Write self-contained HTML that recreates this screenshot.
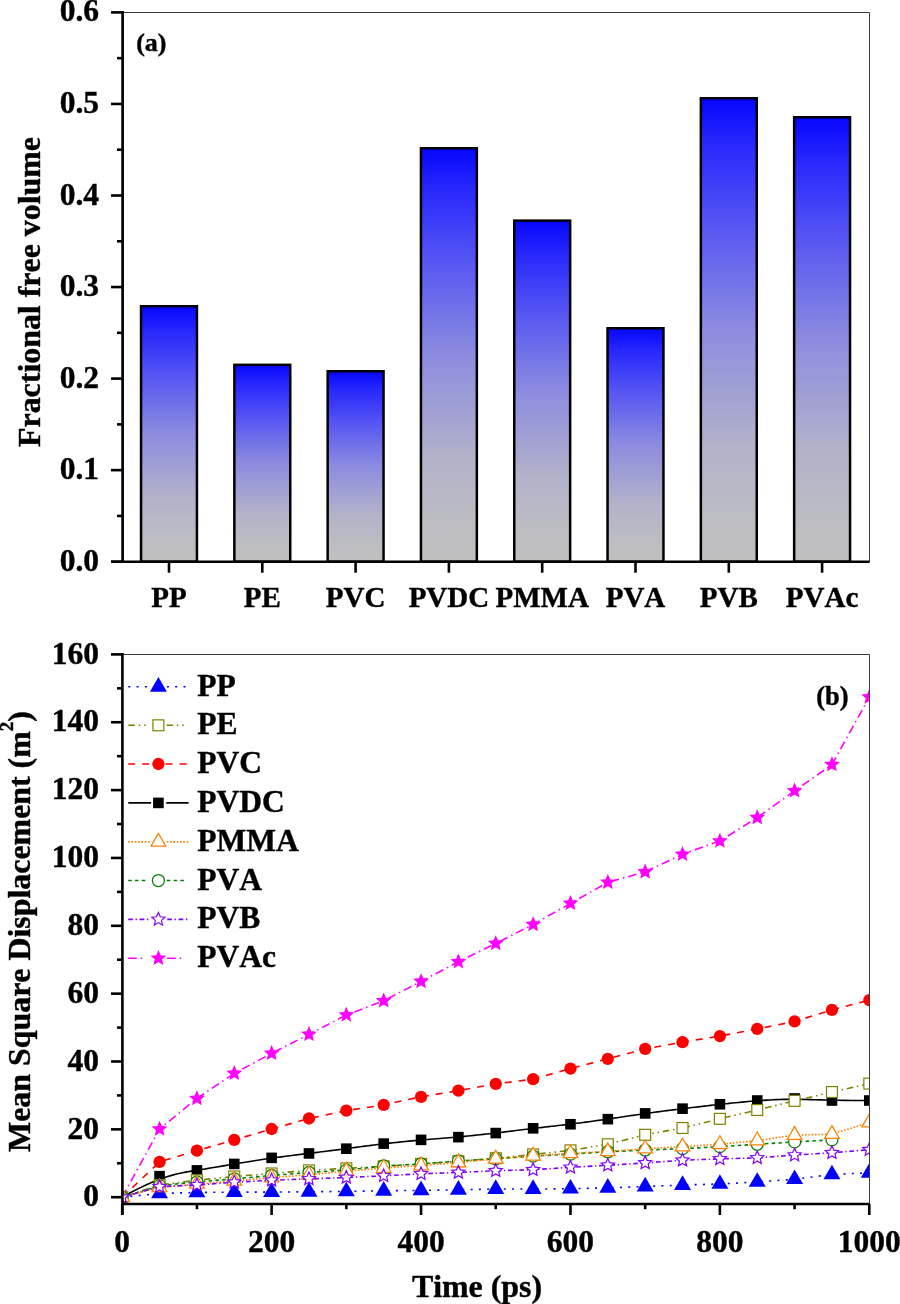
<!DOCTYPE html>
<html><head><meta charset="utf-8"><title>Chart</title><style>html,body{margin:0;padding:0;background:#fff;overflow:hidden}svg{display:block;will-change:transform}text{font-family:"Liberation Serif",serif;font-weight:bold;font-kerning:none;stroke:#000;stroke-width:0.4px}</style></head><body>
<svg width="900" height="1304" viewBox="0 0 900 1304">
<rect width="900" height="1304" fill="#fff"/>
<defs><linearGradient id="g" x1="0" y1="0" x2="0" y2="1"><stop offset="0" stop-color="rgb(6,6,255)"/><stop offset="0.1" stop-color="rgb(40,40,253)"/><stop offset="0.25" stop-color="rgb(80,80,245)"/><stop offset="0.5" stop-color="rgb(140,140,224)"/><stop offset="0.75" stop-color="rgb(178,178,202)"/><stop offset="0.9" stop-color="rgb(188,188,195)"/><stop offset="1" stop-color="rgb(192,192,192)"/></linearGradient><clipPath id="pc"><rect x="122.4" y="654.4" width="746.9" height="549.6"/></clipPath></defs>
<rect x="141.05" y="306.25" width="55.90" height="255.45" fill="url(#g)" stroke="#000" stroke-width="2.5"/>
<rect x="234.35" y="364.85" width="55.90" height="196.85" fill="url(#g)" stroke="#000" stroke-width="2.5"/>
<rect x="327.65" y="371.25" width="55.90" height="190.45" fill="url(#g)" stroke="#000" stroke-width="2.5"/>
<rect x="420.95" y="148.25" width="55.90" height="413.45" fill="url(#g)" stroke="#000" stroke-width="2.5"/>
<rect x="514.25" y="220.65" width="55.90" height="341.05" fill="url(#g)" stroke="#000" stroke-width="2.5"/>
<rect x="607.55" y="328.25" width="55.90" height="233.45" fill="url(#g)" stroke="#000" stroke-width="2.5"/>
<rect x="700.85" y="98.25" width="55.90" height="463.45" fill="url(#g)" stroke="#000" stroke-width="2.5"/>
<rect x="794.15" y="117.25" width="55.90" height="444.45" fill="url(#g)" stroke="#000" stroke-width="2.5"/>
<path d="M122.6 12.5H869.5V561.7" fill="none" stroke="#3c3c3c" stroke-width="1"/>
<line x1="111" y1="561.70" x2="122.6" y2="561.70" stroke="#000" stroke-width="2.6"/>
<text x="99" y="570.70" font-size="31.5" text-anchor="end">0.0</text>
<line x1="111" y1="470.15" x2="122.6" y2="470.15" stroke="#000" stroke-width="2.6"/>
<text x="99" y="479.15" font-size="31.5" text-anchor="end">0.1</text>
<line x1="111" y1="378.60" x2="122.6" y2="378.60" stroke="#000" stroke-width="2.6"/>
<text x="99" y="387.60" font-size="31.5" text-anchor="end">0.2</text>
<line x1="111" y1="287.05" x2="122.6" y2="287.05" stroke="#000" stroke-width="2.6"/>
<text x="99" y="296.05" font-size="31.5" text-anchor="end">0.3</text>
<line x1="111" y1="195.50" x2="122.6" y2="195.50" stroke="#000" stroke-width="2.6"/>
<text x="99" y="204.50" font-size="31.5" text-anchor="end">0.4</text>
<line x1="111" y1="103.95" x2="122.6" y2="103.95" stroke="#000" stroke-width="2.6"/>
<text x="99" y="112.95" font-size="31.5" text-anchor="end">0.5</text>
<line x1="111" y1="12.40" x2="122.6" y2="12.40" stroke="#000" stroke-width="2.6"/>
<text x="99" y="21.40" font-size="31.5" text-anchor="end">0.6</text>
<line x1="117" y1="515.93" x2="122.6" y2="515.93" stroke="#000" stroke-width="2.6"/>
<line x1="117" y1="424.38" x2="122.6" y2="424.38" stroke="#000" stroke-width="2.6"/>
<line x1="117" y1="332.83" x2="122.6" y2="332.83" stroke="#000" stroke-width="2.6"/>
<line x1="117" y1="241.27" x2="122.6" y2="241.27" stroke="#000" stroke-width="2.6"/>
<line x1="117" y1="149.72" x2="122.6" y2="149.72" stroke="#000" stroke-width="2.6"/>
<line x1="117" y1="58.17" x2="122.6" y2="58.17" stroke="#000" stroke-width="2.6"/>
<line x1="122.6" y1="11.1" x2="122.6" y2="563.0" stroke="#000" stroke-width="2.7"/>
<line x1="111" y1="561.7" x2="869.6" y2="561.7" stroke="#000" stroke-width="2.5"/>
<line x1="169.0" y1="561.7" x2="169.0" y2="572.7" stroke="#000" stroke-width="2.6"/>
<text x="169.0" y="607.2" font-size="29" text-anchor="middle">PP</text>
<line x1="262.3" y1="561.7" x2="262.3" y2="572.7" stroke="#000" stroke-width="2.6"/>
<text x="262.3" y="607.2" font-size="29" text-anchor="middle">PE</text>
<line x1="355.6" y1="561.7" x2="355.6" y2="572.7" stroke="#000" stroke-width="2.6"/>
<text x="355.6" y="607.2" font-size="29" text-anchor="middle">PVC</text>
<line x1="448.9" y1="561.7" x2="448.9" y2="572.7" stroke="#000" stroke-width="2.6"/>
<text x="448.9" y="607.2" font-size="29" text-anchor="middle">PVDC</text>
<line x1="542.2" y1="561.7" x2="542.2" y2="572.7" stroke="#000" stroke-width="2.6"/>
<text x="542.2" y="607.2" font-size="29" text-anchor="middle">PMMA</text>
<line x1="635.5" y1="561.7" x2="635.5" y2="572.7" stroke="#000" stroke-width="2.6"/>
<text x="635.5" y="607.2" font-size="29" text-anchor="middle">PVA</text>
<line x1="728.8" y1="561.7" x2="728.8" y2="572.7" stroke="#000" stroke-width="2.6"/>
<text x="728.8" y="607.2" font-size="29" text-anchor="middle">PVB</text>
<line x1="822.1" y1="561.7" x2="822.1" y2="572.7" stroke="#000" stroke-width="2.6"/>
<text x="822.1" y="607.2" font-size="29" text-anchor="middle">PVAc</text>
<text x="136.2" y="50.8" font-size="26">(a)</text>
<text transform="translate(40.2 292) rotate(-90)" font-size="31.9" text-anchor="middle">Fractional free volume</text>
<g clip-path="url(#pc)">
<path d="M122.20 1197.20 L159.56 1129.01 L196.91 1098.48 L234.26 1073.37 L271.62 1053.36 L308.98 1034.36 L346.33 1015.02 L383.69 1000.77 L421.04 981.44 L458.39 961.76 L495.75 943.44 L533.11 924.44 L570.46 903.41 L607.82 882.38 L645.17 871.86 L682.53 854.22 L719.88 840.99 L757.24 817.58 L794.59 790.78 L831.95 764.66 L869.30 697.15" fill="none" stroke="#ff00ff" stroke-width="1.6" stroke-dasharray="8.5 4 1.5 4"/>
<polygon points="159.56,1120.71 161.79,1125.94 167.45,1126.45 163.17,1130.19 164.43,1135.73 159.56,1132.81 154.68,1135.73 155.94,1130.19 151.66,1126.45 157.32,1125.94" fill="#ff00ff"/>
<polygon points="196.91,1090.18 199.14,1095.40 204.80,1095.91 200.52,1099.65 201.79,1105.19 196.91,1102.28 192.03,1105.19 193.30,1099.65 189.02,1095.91 194.68,1095.40" fill="#ff00ff"/>
<polygon points="234.26,1065.07 236.50,1070.30 242.16,1070.81 237.88,1074.55 239.14,1080.09 234.26,1077.17 229.39,1080.09 230.65,1074.55 226.37,1070.81 232.03,1070.30" fill="#ff00ff"/>
<polygon points="271.62,1045.06 273.85,1050.28 279.51,1050.79 275.23,1054.53 276.50,1060.07 271.62,1057.16 266.74,1060.07 268.01,1054.53 263.73,1050.79 269.39,1050.28" fill="#ff00ff"/>
<polygon points="308.98,1026.06 311.21,1031.29 316.87,1031.80 312.59,1035.53 313.85,1041.07 308.98,1038.16 304.10,1041.07 305.36,1035.53 301.08,1031.80 306.74,1031.29" fill="#ff00ff"/>
<polygon points="346.33,1006.72 348.56,1011.95 354.22,1012.46 349.94,1016.20 351.21,1021.74 346.33,1018.82 341.45,1021.74 342.72,1016.20 338.44,1012.46 344.10,1011.95" fill="#ff00ff"/>
<polygon points="383.69,992.47 385.92,997.70 391.58,998.21 387.30,1001.95 388.56,1007.49 383.69,1004.57 378.81,1007.49 380.07,1001.95 375.79,998.21 381.45,997.70" fill="#ff00ff"/>
<polygon points="421.04,973.14 423.27,978.36 428.93,978.87 424.65,982.61 425.92,988.15 421.04,985.24 416.16,988.15 417.43,982.61 413.15,978.87 418.81,978.36" fill="#ff00ff"/>
<polygon points="458.39,953.46 460.63,958.69 466.29,959.20 462.01,962.93 463.27,968.48 458.39,965.56 453.52,968.48 454.78,962.93 450.50,959.20 456.16,958.69" fill="#ff00ff"/>
<polygon points="495.75,935.14 497.98,940.37 503.64,940.88 499.36,944.62 500.63,950.16 495.75,947.24 490.87,950.16 492.14,944.62 487.86,940.88 493.52,940.37" fill="#ff00ff"/>
<polygon points="533.11,916.14 535.34,921.37 541.00,921.88 536.72,925.62 537.98,931.16 533.11,928.24 528.23,931.16 529.49,925.62 525.21,921.88 530.87,921.37" fill="#ff00ff"/>
<polygon points="570.46,895.11 572.69,900.34 578.35,900.84 574.07,904.58 575.34,910.12 570.46,907.21 565.58,910.12 566.85,904.58 562.57,900.84 568.23,900.34" fill="#ff00ff"/>
<polygon points="607.82,874.08 610.05,879.30 615.71,879.81 611.43,883.55 612.69,889.09 607.82,886.18 602.94,889.09 604.20,883.55 599.92,879.81 605.58,879.30" fill="#ff00ff"/>
<polygon points="645.17,863.56 647.40,868.78 653.06,869.29 648.78,873.03 650.05,878.57 645.17,875.66 640.29,878.57 641.56,873.03 637.28,869.29 642.94,868.78" fill="#ff00ff"/>
<polygon points="682.53,845.92 684.76,851.14 690.42,851.65 686.14,855.39 687.40,860.93 682.53,858.02 677.65,860.93 678.91,855.39 674.63,851.65 680.29,851.14" fill="#ff00ff"/>
<polygon points="719.88,832.69 722.11,837.91 727.77,838.42 723.49,842.16 724.76,847.70 719.88,844.79 715.00,847.70 716.27,842.16 711.99,838.42 717.65,837.91" fill="#ff00ff"/>
<polygon points="757.24,809.28 759.47,814.50 765.13,815.01 760.85,818.75 762.11,824.29 757.24,821.38 752.36,824.29 753.62,818.75 749.34,815.01 755.00,814.50" fill="#ff00ff"/>
<polygon points="794.59,782.48 796.82,787.70 802.48,788.21 798.20,791.95 799.47,797.49 794.59,794.58 789.71,797.49 790.98,791.95 786.70,788.21 792.36,787.70" fill="#ff00ff"/>
<polygon points="831.95,756.36 834.18,761.58 839.84,762.09 835.56,765.83 836.82,771.37 831.95,768.46 827.07,771.37 828.33,765.83 824.05,762.09 829.71,761.58" fill="#ff00ff"/>
<polygon points="869.30,688.85 871.53,694.07 877.19,694.58 872.91,698.32 874.18,703.86 869.30,700.95 864.42,703.86 865.69,698.32 861.41,694.58 867.07,694.07" fill="#ff00ff"/>
<path d="M122.20 1197.20 L159.56 1161.92 L196.91 1150.72 L234.26 1139.87 L271.62 1129.01 L308.98 1118.49 L346.33 1110.69 L383.69 1104.92 L421.04 1096.78 L458.39 1090.68 L495.75 1083.89 L533.11 1079.14 L570.46 1068.62 L607.82 1058.79 L645.17 1048.95 L682.53 1042.16 L719.88 1036.06 L757.24 1028.93 L794.59 1021.47 L831.95 1009.93 L869.30 1000.10" fill="none" stroke="#ff0000" stroke-width="1.6" stroke-dasharray="7 7"/>
<circle cx="159.56" cy="1161.92" r="6.15" fill="#ff0000"/>
<circle cx="196.91" cy="1150.72" r="6.15" fill="#ff0000"/>
<circle cx="234.26" cy="1139.87" r="6.15" fill="#ff0000"/>
<circle cx="271.62" cy="1129.01" r="6.15" fill="#ff0000"/>
<circle cx="308.98" cy="1118.49" r="6.15" fill="#ff0000"/>
<circle cx="346.33" cy="1110.69" r="6.15" fill="#ff0000"/>
<circle cx="383.69" cy="1104.92" r="6.15" fill="#ff0000"/>
<circle cx="421.04" cy="1096.78" r="6.15" fill="#ff0000"/>
<circle cx="458.39" cy="1090.68" r="6.15" fill="#ff0000"/>
<circle cx="495.75" cy="1083.89" r="6.15" fill="#ff0000"/>
<circle cx="533.11" cy="1079.14" r="6.15" fill="#ff0000"/>
<circle cx="570.46" cy="1068.62" r="6.15" fill="#ff0000"/>
<circle cx="607.82" cy="1058.79" r="6.15" fill="#ff0000"/>
<circle cx="645.17" cy="1048.95" r="6.15" fill="#ff0000"/>
<circle cx="682.53" cy="1042.16" r="6.15" fill="#ff0000"/>
<circle cx="719.88" cy="1036.06" r="6.15" fill="#ff0000"/>
<circle cx="757.24" cy="1028.93" r="6.15" fill="#ff0000"/>
<circle cx="794.59" cy="1021.47" r="6.15" fill="#ff0000"/>
<circle cx="831.95" cy="1009.93" r="6.15" fill="#ff0000"/>
<circle cx="869.30" cy="1000.10" r="6.15" fill="#ff0000"/>
<path d="M122.20 1197.20 L131.16 1192.31 L139.39 1188.11 L146.96 1184.55 L153.91 1181.56 L160.29 1179.07 L166.17 1177.04 L171.59 1175.39 L176.62 1174.06 L181.30 1173.00 L185.68 1172.14 L189.83 1171.41 L193.80 1170.77 L197.63 1170.15 L201.33 1169.54 L204.94 1168.94 L208.44 1168.36 L211.86 1167.79 L215.20 1167.23 L218.48 1166.68 L221.70 1166.13 L224.88 1165.59 L228.02 1165.06 L231.15 1164.53 L234.26 1164.01 L237.38 1163.49 L240.49 1162.97 L243.60 1162.46 L246.72 1161.95 L249.83 1161.44 L252.94 1160.94 L256.06 1160.45 L259.17 1159.97 L262.28 1159.49 L265.39 1159.03 L268.51 1158.57 L271.62 1158.13 L274.73 1157.70 L277.85 1157.28 L280.96 1156.86 L284.07 1156.46 L287.18 1156.06 L290.30 1155.67 L293.41 1155.28 L296.52 1154.90 L299.64 1154.52 L302.75 1154.14 L305.86 1153.76 L308.98 1153.38 L312.09 1153.00 L315.20 1152.61 L318.31 1152.22 L321.43 1151.83 L324.54 1151.44 L327.65 1151.05 L330.77 1150.65 L333.88 1150.25 L336.99 1149.85 L340.10 1149.45 L343.22 1149.04 L346.33 1148.63 L349.44 1148.22 L352.56 1147.81 L355.67 1147.39 L358.78 1146.98 L361.89 1146.57 L365.01 1146.16 L368.12 1145.76 L371.23 1145.36 L374.35 1144.97 L377.46 1144.58 L380.57 1144.20 L383.68 1143.82 L386.80 1143.46 L389.91 1143.11 L393.02 1142.76 L396.14 1142.43 L399.25 1142.10 L402.36 1141.78 L405.48 1141.47 L408.59 1141.17 L411.70 1140.87 L414.81 1140.59 L417.93 1140.31 L421.04 1140.04 L424.15 1139.77 L427.27 1139.51 L430.38 1139.26 L433.49 1139.00 L436.60 1138.75 L439.72 1138.50 L442.83 1138.25 L445.94 1138.00 L449.06 1137.74 L452.17 1137.47 L455.28 1137.20 L458.39 1136.93 L461.51 1136.64 L464.62 1136.34 L467.73 1136.04 L470.85 1135.72 L473.96 1135.40 L477.07 1135.07 L480.19 1134.74 L483.30 1134.40 L486.41 1134.05 L489.52 1133.69 L492.64 1133.33 L495.75 1132.97 L498.86 1132.60 L501.98 1132.23 L505.09 1131.85 L508.20 1131.47 L511.31 1131.09 L514.43 1130.71 L517.54 1130.33 L520.65 1129.94 L523.77 1129.57 L526.88 1129.19 L529.99 1128.82 L533.11 1128.45 L536.22 1128.08 L539.33 1127.72 L542.44 1127.36 L545.56 1127.00 L548.67 1126.65 L551.78 1126.29 L554.90 1125.93 L558.01 1125.57 L561.12 1125.21 L564.23 1124.84 L567.35 1124.47 L570.46 1124.09 L573.57 1123.71 L576.69 1123.31 L579.80 1122.92 L582.91 1122.51 L586.02 1122.10 L589.14 1121.68 L592.25 1121.26 L595.36 1120.83 L598.48 1120.39 L601.59 1119.95 L604.70 1119.51 L607.82 1119.06 L610.93 1118.60 L614.04 1118.15 L617.15 1117.69 L620.27 1117.22 L623.38 1116.76 L626.49 1116.30 L629.61 1115.83 L632.72 1115.37 L635.83 1114.92 L638.94 1114.46 L642.06 1114.02 L645.17 1113.57 L648.28 1113.14 L651.40 1112.71 L654.51 1112.29 L657.62 1111.87 L660.73 1111.46 L663.85 1111.06 L666.96 1110.66 L670.07 1110.26 L673.19 1109.87 L676.30 1109.48 L679.41 1109.10 L682.53 1108.71 L685.64 1108.33 L688.75 1107.95 L691.86 1107.58 L694.98 1107.21 L698.09 1106.84 L701.20 1106.47 L704.32 1106.11 L707.43 1105.75 L710.54 1105.40 L713.65 1105.05 L716.77 1104.70 L719.88 1104.36 L722.99 1104.02 L726.11 1103.69 L729.22 1103.36 L732.33 1103.05 L735.44 1102.73 L738.56 1102.43 L741.67 1102.13 L744.78 1101.85 L747.90 1101.57 L751.01 1101.30 L754.12 1101.04 L757.24 1100.80 L760.35 1100.56 L763.48 1100.34 L766.62 1100.14 L769.80 1099.95 L773.02 1099.78 L776.30 1099.64 L779.64 1099.52 L783.06 1099.42 L786.56 1099.35 L790.17 1099.31 L793.87 1099.30 L797.70 1099.33 L801.67 1099.39 L805.82 1099.47 L810.20 1099.58 L814.88 1099.71 L819.91 1099.85 L825.33 1099.98 L831.21 1100.12 L837.59 1100.24 L844.54 1100.35 L852.11 1100.44 L860.34 1100.49 L869.30 1100.51" fill="none" stroke="#000000" stroke-width="1.6"/>
<rect x="154.25" y="1170.87" width="10.6" height="10.6" fill="#000000"/>
<rect x="191.61" y="1165.10" width="10.6" height="10.6" fill="#000000"/>
<rect x="228.96" y="1158.65" width="10.6" height="10.6" fill="#000000"/>
<rect x="266.32" y="1152.55" width="10.6" height="10.6" fill="#000000"/>
<rect x="303.68" y="1148.14" width="10.6" height="10.6" fill="#000000"/>
<rect x="341.03" y="1143.39" width="10.6" height="10.6" fill="#000000"/>
<rect x="378.38" y="1138.30" width="10.6" height="10.6" fill="#000000"/>
<rect x="415.74" y="1134.57" width="10.6" height="10.6" fill="#000000"/>
<rect x="453.09" y="1131.85" width="10.6" height="10.6" fill="#000000"/>
<rect x="490.45" y="1127.78" width="10.6" height="10.6" fill="#000000"/>
<rect x="527.81" y="1123.03" width="10.6" height="10.6" fill="#000000"/>
<rect x="565.16" y="1118.96" width="10.6" height="10.6" fill="#000000"/>
<rect x="602.52" y="1113.87" width="10.6" height="10.6" fill="#000000"/>
<rect x="639.87" y="1108.11" width="10.6" height="10.6" fill="#000000"/>
<rect x="677.23" y="1103.36" width="10.6" height="10.6" fill="#000000"/>
<rect x="714.58" y="1098.95" width="10.6" height="10.6" fill="#000000"/>
<rect x="751.94" y="1095.21" width="10.6" height="10.6" fill="#000000"/>
<rect x="789.29" y="1093.18" width="10.6" height="10.6" fill="#000000"/>
<rect x="826.65" y="1095.21" width="10.6" height="10.6" fill="#000000"/>
<rect x="864.00" y="1095.21" width="10.6" height="10.6" fill="#000000"/>
<path d="M122.20 1197.20 L159.56 1193.47 L196.91 1192.45 L234.26 1192.11 L271.62 1192.11 L308.98 1191.77 L346.33 1191.43 L383.69 1190.75 L421.04 1190.41 L458.39 1189.74 L495.75 1189.06 L533.11 1189.06 L570.46 1188.72 L607.82 1187.87 L645.17 1186.51 L682.53 1184.99 L719.88 1183.97 L757.24 1181.93 L794.59 1179.22 L831.95 1174.47 L869.30 1172.77" fill="none" stroke="#0000ff" stroke-width="1.6" stroke-dasharray="2 6.3"/>
<polygon points="159.56,1183.67 151.07,1198.37 168.04,1198.37" fill="#0000ff"/>
<polygon points="196.91,1182.65 188.42,1197.35 205.40,1197.35" fill="#0000ff"/>
<polygon points="234.26,1182.31 225.78,1197.01 242.75,1197.01" fill="#0000ff"/>
<polygon points="271.62,1182.31 263.13,1197.01 280.11,1197.01" fill="#0000ff"/>
<polygon points="308.98,1181.97 300.49,1196.67 317.46,1196.67" fill="#0000ff"/>
<polygon points="346.33,1181.63 337.84,1196.33 354.82,1196.33" fill="#0000ff"/>
<polygon points="383.69,1180.95 375.20,1195.65 392.17,1195.65" fill="#0000ff"/>
<polygon points="421.04,1180.62 412.55,1195.32 429.53,1195.32" fill="#0000ff"/>
<polygon points="458.39,1179.94 449.91,1194.64 466.88,1194.64" fill="#0000ff"/>
<polygon points="495.75,1179.26 487.26,1193.96 504.24,1193.96" fill="#0000ff"/>
<polygon points="533.11,1179.26 524.62,1193.96 541.59,1193.96" fill="#0000ff"/>
<polygon points="570.46,1178.92 561.97,1193.62 578.95,1193.62" fill="#0000ff"/>
<polygon points="607.82,1178.07 599.33,1192.77 616.30,1192.77" fill="#0000ff"/>
<polygon points="645.17,1176.71 636.68,1191.41 653.66,1191.41" fill="#0000ff"/>
<polygon points="682.53,1175.19 674.04,1189.89 691.01,1189.89" fill="#0000ff"/>
<polygon points="719.88,1174.17 711.39,1188.87 728.37,1188.87" fill="#0000ff"/>
<polygon points="757.24,1172.13 748.75,1186.83 765.72,1186.83" fill="#0000ff"/>
<polygon points="794.59,1169.42 786.10,1184.12 803.08,1184.12" fill="#0000ff"/>
<polygon points="831.95,1164.67 823.46,1179.37 840.43,1179.37" fill="#0000ff"/>
<polygon points="869.30,1162.97 860.81,1177.67 877.79,1177.67" fill="#0000ff"/>
<path d="M122.20 1197.20 L159.56 1184.99 L196.91 1180.24 L234.26 1176.51 L271.62 1173.45 L308.98 1170.40 L346.33 1168.36 L383.69 1166.33 L421.04 1163.95 L458.39 1161.24 L495.75 1158.19 L533.11 1154.45 L570.46 1150.38 L607.82 1144.28 L645.17 1134.78 L682.53 1127.99 L719.88 1118.83 L757.24 1110.01 L794.59 1100.85 L831.95 1092.03 L869.30 1083.55" fill="none" stroke="#808000" stroke-width="1.6" stroke-dasharray="6.6 3.8 1.5 3.8 1.5 3.8"/>
<rect x="116.75" y="1191.75" width="10.9" height="10.9" fill="#fff" stroke="#808000" stroke-width="1.2"/>
<rect x="154.11" y="1179.54" width="10.9" height="10.9" fill="#fff" stroke="#808000" stroke-width="1.2"/>
<rect x="191.46" y="1174.79" width="10.9" height="10.9" fill="#fff" stroke="#808000" stroke-width="1.2"/>
<rect x="228.81" y="1171.06" width="10.9" height="10.9" fill="#fff" stroke="#808000" stroke-width="1.2"/>
<rect x="266.17" y="1168.00" width="10.9" height="10.9" fill="#fff" stroke="#808000" stroke-width="1.2"/>
<rect x="303.53" y="1164.95" width="10.9" height="10.9" fill="#fff" stroke="#808000" stroke-width="1.2"/>
<rect x="340.88" y="1162.91" width="10.9" height="10.9" fill="#fff" stroke="#808000" stroke-width="1.2"/>
<rect x="378.24" y="1160.88" width="10.9" height="10.9" fill="#fff" stroke="#808000" stroke-width="1.2"/>
<rect x="415.59" y="1158.50" width="10.9" height="10.9" fill="#fff" stroke="#808000" stroke-width="1.2"/>
<rect x="452.94" y="1155.79" width="10.9" height="10.9" fill="#fff" stroke="#808000" stroke-width="1.2"/>
<rect x="490.30" y="1152.74" width="10.9" height="10.9" fill="#fff" stroke="#808000" stroke-width="1.2"/>
<rect x="527.65" y="1149.00" width="10.9" height="10.9" fill="#fff" stroke="#808000" stroke-width="1.2"/>
<rect x="565.01" y="1144.93" width="10.9" height="10.9" fill="#fff" stroke="#808000" stroke-width="1.2"/>
<rect x="602.37" y="1138.83" width="10.9" height="10.9" fill="#fff" stroke="#808000" stroke-width="1.2"/>
<rect x="639.72" y="1129.33" width="10.9" height="10.9" fill="#fff" stroke="#808000" stroke-width="1.2"/>
<rect x="677.08" y="1122.54" width="10.9" height="10.9" fill="#fff" stroke="#808000" stroke-width="1.2"/>
<rect x="714.43" y="1113.38" width="10.9" height="10.9" fill="#fff" stroke="#808000" stroke-width="1.2"/>
<rect x="751.78" y="1104.56" width="10.9" height="10.9" fill="#fff" stroke="#808000" stroke-width="1.2"/>
<rect x="789.14" y="1095.40" width="10.9" height="10.9" fill="#fff" stroke="#808000" stroke-width="1.2"/>
<rect x="826.50" y="1086.58" width="10.9" height="10.9" fill="#fff" stroke="#808000" stroke-width="1.2"/>
<rect x="863.85" y="1078.10" width="10.9" height="10.9" fill="#fff" stroke="#808000" stroke-width="1.2"/>
<path d="M122.20 1197.20 L159.56 1185.67 L196.91 1181.93 L234.26 1178.88 L271.62 1175.49 L308.98 1172.43 L346.33 1170.06 L383.69 1165.99 L421.04 1163.95 L458.39 1160.90 L495.75 1158.86 L533.11 1156.15 L570.46 1154.12 L607.82 1151.74 L645.17 1150.04 L682.53 1148.69 L719.88 1146.65 L757.24 1144.28 L794.59 1141.90 L831.95 1139.87" fill="none" stroke="#008000" stroke-width="1.6" stroke-dasharray="3.5 3.3"/>
<circle cx="122.20" cy="1197.20" r="6.0" fill="#fff" stroke="#008000" stroke-width="1.25"/>
<circle cx="159.56" cy="1185.67" r="6.0" fill="#fff" stroke="#008000" stroke-width="1.25"/>
<circle cx="196.91" cy="1181.93" r="6.0" fill="#fff" stroke="#008000" stroke-width="1.25"/>
<circle cx="234.26" cy="1178.88" r="6.0" fill="#fff" stroke="#008000" stroke-width="1.25"/>
<circle cx="271.62" cy="1175.49" r="6.0" fill="#fff" stroke="#008000" stroke-width="1.25"/>
<circle cx="308.98" cy="1172.43" r="6.0" fill="#fff" stroke="#008000" stroke-width="1.25"/>
<circle cx="346.33" cy="1170.06" r="6.0" fill="#fff" stroke="#008000" stroke-width="1.25"/>
<circle cx="383.69" cy="1165.99" r="6.0" fill="#fff" stroke="#008000" stroke-width="1.25"/>
<circle cx="421.04" cy="1163.95" r="6.0" fill="#fff" stroke="#008000" stroke-width="1.25"/>
<circle cx="458.39" cy="1160.90" r="6.0" fill="#fff" stroke="#008000" stroke-width="1.25"/>
<circle cx="495.75" cy="1158.86" r="6.0" fill="#fff" stroke="#008000" stroke-width="1.25"/>
<circle cx="533.11" cy="1156.15" r="6.0" fill="#fff" stroke="#008000" stroke-width="1.25"/>
<circle cx="570.46" cy="1154.12" r="6.0" fill="#fff" stroke="#008000" stroke-width="1.25"/>
<circle cx="607.82" cy="1151.74" r="6.0" fill="#fff" stroke="#008000" stroke-width="1.25"/>
<circle cx="645.17" cy="1150.04" r="6.0" fill="#fff" stroke="#008000" stroke-width="1.25"/>
<circle cx="682.53" cy="1148.69" r="6.0" fill="#fff" stroke="#008000" stroke-width="1.25"/>
<circle cx="719.88" cy="1146.65" r="6.0" fill="#fff" stroke="#008000" stroke-width="1.25"/>
<circle cx="757.24" cy="1144.28" r="6.0" fill="#fff" stroke="#008000" stroke-width="1.25"/>
<circle cx="794.59" cy="1141.90" r="6.0" fill="#fff" stroke="#008000" stroke-width="1.25"/>
<circle cx="831.95" cy="1139.87" r="6.0" fill="#fff" stroke="#008000" stroke-width="1.25"/>
<path d="M122.20 1197.20 L159.56 1187.36 L196.91 1183.97 L234.26 1180.92 L271.62 1177.52 L308.98 1174.81 L346.33 1171.08 L383.69 1168.02 L421.04 1165.65 L458.39 1162.60 L495.75 1158.86 L533.11 1155.81 L570.46 1153.44 L607.82 1151.40 L645.17 1148.69 L682.53 1146.65 L719.88 1144.28 L757.24 1140.55 L794.59 1135.12 L831.95 1134.10 L869.30 1122.57" fill="none" stroke="#ff8000" stroke-width="1.6" stroke-dasharray="1.6 1.7"/>
<polygon points="122.20,1188.70 114.84,1201.45 129.56,1201.45" fill="#fff" stroke="#ff8000" stroke-width="1.25"/>
<polygon points="159.56,1178.86 152.19,1191.61 166.92,1191.61" fill="#fff" stroke="#ff8000" stroke-width="1.25"/>
<polygon points="196.91,1175.47 189.55,1188.22 204.27,1188.22" fill="#fff" stroke="#ff8000" stroke-width="1.25"/>
<polygon points="234.26,1172.42 226.90,1185.17 241.63,1185.17" fill="#fff" stroke="#ff8000" stroke-width="1.25"/>
<polygon points="271.62,1169.02 264.26,1181.77 278.98,1181.77" fill="#fff" stroke="#ff8000" stroke-width="1.25"/>
<polygon points="308.98,1166.31 301.61,1179.06 316.34,1179.06" fill="#fff" stroke="#ff8000" stroke-width="1.25"/>
<polygon points="346.33,1162.58 338.97,1175.33 353.69,1175.33" fill="#fff" stroke="#ff8000" stroke-width="1.25"/>
<polygon points="383.69,1159.52 376.32,1172.27 391.05,1172.27" fill="#fff" stroke="#ff8000" stroke-width="1.25"/>
<polygon points="421.04,1157.15 413.68,1169.90 428.40,1169.90" fill="#fff" stroke="#ff8000" stroke-width="1.25"/>
<polygon points="458.39,1154.10 451.03,1166.85 465.76,1166.85" fill="#fff" stroke="#ff8000" stroke-width="1.25"/>
<polygon points="495.75,1150.36 488.39,1163.11 503.11,1163.11" fill="#fff" stroke="#ff8000" stroke-width="1.25"/>
<polygon points="533.11,1147.31 525.74,1160.06 540.47,1160.06" fill="#fff" stroke="#ff8000" stroke-width="1.25"/>
<polygon points="570.46,1144.94 563.10,1157.69 577.82,1157.69" fill="#fff" stroke="#ff8000" stroke-width="1.25"/>
<polygon points="607.82,1142.90 600.45,1155.65 615.18,1155.65" fill="#fff" stroke="#ff8000" stroke-width="1.25"/>
<polygon points="645.17,1140.19 637.81,1152.94 652.53,1152.94" fill="#fff" stroke="#ff8000" stroke-width="1.25"/>
<polygon points="682.53,1138.15 675.16,1150.90 689.89,1150.90" fill="#fff" stroke="#ff8000" stroke-width="1.25"/>
<polygon points="719.88,1135.78 712.52,1148.53 727.24,1148.53" fill="#fff" stroke="#ff8000" stroke-width="1.25"/>
<polygon points="757.24,1132.05 749.87,1144.80 764.60,1144.80" fill="#fff" stroke="#ff8000" stroke-width="1.25"/>
<polygon points="794.59,1126.62 787.23,1139.37 801.95,1139.37" fill="#fff" stroke="#ff8000" stroke-width="1.25"/>
<polygon points="831.95,1125.60 824.58,1138.35 839.31,1138.35" fill="#fff" stroke="#ff8000" stroke-width="1.25"/>
<polygon points="869.30,1114.07 861.94,1126.82 876.66,1126.82" fill="#fff" stroke="#ff8000" stroke-width="1.25"/>
<path d="M122.20 1197.20 L159.56 1186.68 L196.91 1184.99 L234.26 1182.27 L271.62 1180.24 L308.98 1178.88 L346.33 1177.52 L383.69 1175.83 L421.04 1173.79 L458.39 1172.43 L495.75 1170.74 L533.11 1169.72 L570.46 1167.35 L607.82 1165.31 L645.17 1162.94 L682.53 1160.22 L719.88 1158.86 L757.24 1157.85 L794.59 1155.13 L831.95 1152.76 L869.30 1149.70" fill="none" stroke="#8000ff" stroke-width="1.6" stroke-dasharray="4.7 2.7 1.3 2.7"/>
<polygon points="122.20,1190.30 124.08,1194.61 128.76,1195.07 125.24,1198.19 126.26,1202.78 122.20,1200.40 118.14,1202.78 119.16,1198.19 115.64,1195.07 120.32,1194.61" fill="#fff" stroke="#8000ff" stroke-width="1.2" stroke-linejoin="miter"/>
<polygon points="159.56,1179.78 161.44,1184.09 166.12,1184.55 162.60,1187.67 163.61,1192.27 159.56,1189.88 155.50,1192.27 156.51,1187.67 152.99,1184.55 157.67,1184.09" fill="#fff" stroke="#8000ff" stroke-width="1.2" stroke-linejoin="miter"/>
<polygon points="196.91,1178.09 198.79,1182.40 203.47,1182.85 199.95,1185.98 200.97,1190.57 196.91,1188.19 192.85,1190.57 193.87,1185.98 190.35,1182.85 195.03,1182.40" fill="#fff" stroke="#8000ff" stroke-width="1.2" stroke-linejoin="miter"/>
<polygon points="234.26,1175.37 236.15,1179.68 240.83,1180.14 237.31,1183.26 238.32,1187.86 234.26,1185.47 230.21,1187.86 231.22,1183.26 227.70,1180.14 232.38,1179.68" fill="#fff" stroke="#8000ff" stroke-width="1.2" stroke-linejoin="miter"/>
<polygon points="271.62,1173.34 273.50,1177.65 278.18,1178.11 274.66,1181.23 275.68,1185.82 271.62,1183.44 267.56,1185.82 268.58,1181.23 265.06,1178.11 269.74,1177.65" fill="#fff" stroke="#8000ff" stroke-width="1.2" stroke-linejoin="miter"/>
<polygon points="308.98,1171.98 310.86,1176.29 315.54,1176.75 312.02,1179.87 313.03,1184.46 308.98,1182.08 304.92,1184.46 305.93,1179.87 302.41,1176.75 307.09,1176.29" fill="#fff" stroke="#8000ff" stroke-width="1.2" stroke-linejoin="miter"/>
<polygon points="346.33,1170.62 348.21,1174.93 352.89,1175.39 349.37,1178.51 350.39,1183.11 346.33,1180.72 342.27,1183.11 343.29,1178.51 339.77,1175.39 344.45,1174.93" fill="#fff" stroke="#8000ff" stroke-width="1.2" stroke-linejoin="miter"/>
<polygon points="383.69,1168.93 385.57,1173.24 390.25,1173.70 386.73,1176.82 387.74,1181.41 383.69,1179.03 379.63,1181.41 380.64,1176.82 377.12,1173.70 381.80,1173.24" fill="#fff" stroke="#8000ff" stroke-width="1.2" stroke-linejoin="miter"/>
<polygon points="421.04,1166.89 422.92,1171.20 427.60,1171.66 424.08,1174.78 425.10,1179.37 421.04,1176.99 416.98,1179.37 418.00,1174.78 414.48,1171.66 419.16,1171.20" fill="#fff" stroke="#8000ff" stroke-width="1.2" stroke-linejoin="miter"/>
<polygon points="458.39,1165.53 460.28,1169.85 464.96,1170.30 461.44,1173.42 462.45,1178.02 458.39,1175.63 454.34,1178.02 455.35,1173.42 451.83,1170.30 456.51,1169.85" fill="#fff" stroke="#8000ff" stroke-width="1.2" stroke-linejoin="miter"/>
<polygon points="495.75,1163.84 497.63,1168.15 502.31,1168.61 498.79,1171.73 499.81,1176.32 495.75,1173.94 491.69,1176.32 492.71,1171.73 489.19,1168.61 493.87,1168.15" fill="#fff" stroke="#8000ff" stroke-width="1.2" stroke-linejoin="miter"/>
<polygon points="533.11,1162.82 534.99,1167.13 539.67,1167.59 536.15,1170.71 537.16,1175.30 533.11,1172.92 529.05,1175.30 530.06,1170.71 526.54,1167.59 531.22,1167.13" fill="#fff" stroke="#8000ff" stroke-width="1.2" stroke-linejoin="miter"/>
<polygon points="570.46,1160.45 572.34,1164.76 577.02,1165.21 573.50,1168.33 574.52,1172.93 570.46,1170.55 566.40,1172.93 567.42,1168.33 563.90,1165.21 568.58,1164.76" fill="#fff" stroke="#8000ff" stroke-width="1.2" stroke-linejoin="miter"/>
<polygon points="607.82,1158.41 609.70,1162.72 614.38,1163.18 610.86,1166.30 611.87,1170.89 607.82,1168.51 603.76,1170.89 604.77,1166.30 601.25,1163.18 605.93,1162.72" fill="#fff" stroke="#8000ff" stroke-width="1.2" stroke-linejoin="miter"/>
<polygon points="645.17,1156.04 647.05,1160.35 651.73,1160.80 648.21,1163.92 649.23,1168.52 645.17,1166.14 641.11,1168.52 642.13,1163.92 638.61,1160.80 643.29,1160.35" fill="#fff" stroke="#8000ff" stroke-width="1.2" stroke-linejoin="miter"/>
<polygon points="682.53,1153.32 684.41,1157.63 689.09,1158.09 685.57,1161.21 686.58,1165.80 682.53,1163.42 678.47,1165.80 679.48,1161.21 675.96,1158.09 680.64,1157.63" fill="#fff" stroke="#8000ff" stroke-width="1.2" stroke-linejoin="miter"/>
<polygon points="719.88,1151.96 721.76,1156.28 726.44,1156.73 722.92,1159.85 723.94,1164.45 719.88,1162.06 715.82,1164.45 716.84,1159.85 713.32,1156.73 718.00,1156.28" fill="#fff" stroke="#8000ff" stroke-width="1.2" stroke-linejoin="miter"/>
<polygon points="757.24,1150.95 759.12,1155.26 763.80,1155.71 760.28,1158.84 761.29,1163.43 757.24,1161.05 753.18,1163.43 754.19,1158.84 750.67,1155.71 755.35,1155.26" fill="#fff" stroke="#8000ff" stroke-width="1.2" stroke-linejoin="miter"/>
<polygon points="794.59,1148.23 796.47,1152.54 801.15,1153.00 797.63,1156.12 798.65,1160.72 794.59,1158.33 790.53,1160.72 791.55,1156.12 788.03,1153.00 792.71,1152.54" fill="#fff" stroke="#8000ff" stroke-width="1.2" stroke-linejoin="miter"/>
<polygon points="831.95,1145.86 833.83,1150.17 838.51,1150.63 834.99,1153.75 836.00,1158.34 831.95,1155.96 827.89,1158.34 828.90,1153.75 825.38,1150.63 830.06,1150.17" fill="#fff" stroke="#8000ff" stroke-width="1.2" stroke-linejoin="miter"/>
<polygon points="869.30,1142.80 871.18,1147.12 875.86,1147.57 872.34,1150.69 873.36,1155.29 869.30,1152.90 865.24,1155.29 866.26,1150.69 862.74,1147.57 867.42,1147.12" fill="#fff" stroke="#8000ff" stroke-width="1.2" stroke-linejoin="miter"/>
</g>
<path d="M122.4 654.5H869.5V1204.0" fill="none" stroke="#3c3c3c" stroke-width="1"/>
<line x1="111" y1="1197.20" x2="122.4" y2="1197.20" stroke="#000" stroke-width="2.6"/>
<text x="99" y="1206.40" font-size="31.5" text-anchor="end">0</text>
<line x1="111" y1="1129.35" x2="122.4" y2="1129.35" stroke="#000" stroke-width="2.6"/>
<text x="99" y="1138.55" font-size="31.5" text-anchor="end">20</text>
<line x1="111" y1="1061.50" x2="122.4" y2="1061.50" stroke="#000" stroke-width="2.6"/>
<text x="99" y="1070.70" font-size="31.5" text-anchor="end">40</text>
<line x1="111" y1="993.65" x2="122.4" y2="993.65" stroke="#000" stroke-width="2.6"/>
<text x="99" y="1002.85" font-size="31.5" text-anchor="end">60</text>
<line x1="111" y1="925.80" x2="122.4" y2="925.80" stroke="#000" stroke-width="2.6"/>
<text x="99" y="935.00" font-size="31.5" text-anchor="end">80</text>
<line x1="111" y1="857.95" x2="122.4" y2="857.95" stroke="#000" stroke-width="2.6"/>
<text x="99" y="867.15" font-size="31.5" text-anchor="end">100</text>
<line x1="111" y1="790.10" x2="122.4" y2="790.10" stroke="#000" stroke-width="2.6"/>
<text x="99" y="799.30" font-size="31.5" text-anchor="end">120</text>
<line x1="111" y1="722.25" x2="122.4" y2="722.25" stroke="#000" stroke-width="2.6"/>
<text x="99" y="731.45" font-size="31.5" text-anchor="end">140</text>
<line x1="111" y1="654.40" x2="122.4" y2="654.40" stroke="#000" stroke-width="2.6"/>
<text x="99" y="663.60" font-size="31.5" text-anchor="end">160</text>
<line x1="117" y1="1163.28" x2="122.4" y2="1163.28" stroke="#000" stroke-width="2.6"/>
<line x1="117" y1="1095.42" x2="122.4" y2="1095.42" stroke="#000" stroke-width="2.6"/>
<line x1="117" y1="1027.58" x2="122.4" y2="1027.58" stroke="#000" stroke-width="2.6"/>
<line x1="117" y1="959.73" x2="122.4" y2="959.73" stroke="#000" stroke-width="2.6"/>
<line x1="117" y1="891.88" x2="122.4" y2="891.88" stroke="#000" stroke-width="2.6"/>
<line x1="117" y1="824.03" x2="122.4" y2="824.03" stroke="#000" stroke-width="2.6"/>
<line x1="117" y1="756.17" x2="122.4" y2="756.17" stroke="#000" stroke-width="2.6"/>
<line x1="117" y1="688.33" x2="122.4" y2="688.33" stroke="#000" stroke-width="2.6"/>
<line x1="122.4" y1="653.1" x2="122.4" y2="1214.5" stroke="#000" stroke-width="2.6"/>
<line x1="122.4" y1="1204.0" x2="869.9" y2="1204.0" stroke="#000" stroke-width="2.5"/>
<line x1="122.20" y1="1204.0" x2="122.20" y2="1215" stroke="#000" stroke-width="2.6"/>
<text x="122.20" y="1251.6" font-size="31.5" text-anchor="middle">0</text>
<line x1="271.62" y1="1204.0" x2="271.62" y2="1215" stroke="#000" stroke-width="2.6"/>
<text x="271.62" y="1251.6" font-size="31.5" text-anchor="middle">200</text>
<line x1="421.04" y1="1204.0" x2="421.04" y2="1215" stroke="#000" stroke-width="2.6"/>
<text x="421.04" y="1251.6" font-size="31.5" text-anchor="middle">400</text>
<line x1="570.46" y1="1204.0" x2="570.46" y2="1215" stroke="#000" stroke-width="2.6"/>
<text x="570.46" y="1251.6" font-size="31.5" text-anchor="middle">600</text>
<line x1="719.88" y1="1204.0" x2="719.88" y2="1215" stroke="#000" stroke-width="2.6"/>
<text x="719.88" y="1251.6" font-size="31.5" text-anchor="middle">800</text>
<line x1="869.30" y1="1204.0" x2="869.30" y2="1215" stroke="#000" stroke-width="2.6"/>
<text x="869.30" y="1251.6" font-size="31.5" text-anchor="middle">1000</text>
<line x1="196.91" y1="1204.0" x2="196.91" y2="1209.2" stroke="#000" stroke-width="2.6"/>
<line x1="346.33" y1="1204.0" x2="346.33" y2="1209.2" stroke="#000" stroke-width="2.6"/>
<line x1="495.75" y1="1204.0" x2="495.75" y2="1209.2" stroke="#000" stroke-width="2.6"/>
<line x1="645.17" y1="1204.0" x2="645.17" y2="1209.2" stroke="#000" stroke-width="2.6"/>
<line x1="794.59" y1="1204.0" x2="794.59" y2="1209.2" stroke="#000" stroke-width="2.6"/>
<text x="477" y="1297.3" font-size="31.9" text-anchor="middle">Time (ps)</text>
<text transform="translate(29.5 931.5) rotate(-90)" font-size="31.9" text-anchor="middle">Mean Square Displacement (m<tspan font-size="19" dy="-16.5">2</tspan><tspan dy="16.5">)</tspan></text>
<text x="816.3" y="704.6" font-size="26.5">(b)</text>
<path d="M128.3 686.8H151.1M166.9 686.8H188.6" fill="none" stroke="#0000ff" stroke-width="1.6" stroke-dasharray="2 6.3"/>
<polygon points="158.40,677.00 149.91,691.70 166.89,691.70" fill="#0000ff"/>
<text x="197.2" y="695.80" font-size="31.5">PP</text>
<path d="M128.3 725.3H149.0M166.5 725.3H187.0" fill="none" stroke="#808000" stroke-width="1.6" stroke-dasharray="6.6 3.8 1.5 3.8 1.5 3.8"/>
<rect x="152.95" y="719.85" width="10.9" height="10.9" fill="#fff" stroke="#808000" stroke-width="1.2"/>
<text x="197.2" y="734.30" font-size="31.5">PE</text>
<path d="M128.2 764.0H151.1M165.6 764.0H188.6" fill="none" stroke="#ff0000" stroke-width="1.6" stroke-dasharray="7 7"/>
<circle cx="158.40" cy="764.00" r="6.15" fill="#ff0000"/>
<text x="197.2" y="773.00" font-size="31.5">PVC</text>
<path d="M128.3 802.9H151.1M166.3 802.9H188.6" fill="none" stroke="#000000" stroke-width="1.6"/>
<rect x="153.10" y="797.60" width="10.6" height="10.6" fill="#000000"/>
<text x="197.2" y="811.90" font-size="31.5">PVDC</text>
<path d="M128.2 841.9H149.5M166.8 841.9H188.4" fill="none" stroke="#ff8000" stroke-width="1.6" stroke-dasharray="1.6 1.7"/>
<polygon points="158.40,833.40 151.04,846.15 165.76,846.15" fill="#fff" stroke="#ff8000" stroke-width="1.25"/>
<text x="197.2" y="850.90" font-size="31.5">PMMA</text>
<path d="M128.2 880.5H146.5M166.8 880.5H185.0" fill="none" stroke="#008000" stroke-width="1.6" stroke-dasharray="3.5 3.3"/>
<circle cx="158.40" cy="880.50" r="6.0" fill="#fff" stroke="#008000" stroke-width="1.25"/>
<text x="197.2" y="889.50" font-size="31.5">PVA</text>
<path d="M128.2 919.4H151.1M167.2 919.4H188.6" fill="none" stroke="#8000ff" stroke-width="1.6" stroke-dasharray="4.7 2.7 1.3 2.7"/>
<polygon points="158.40,912.50 160.28,916.81 164.96,917.27 161.44,920.39 162.46,924.98 158.40,922.60 154.34,924.98 155.36,920.39 151.84,917.27 156.52,916.81" fill="#fff" stroke="#8000ff" stroke-width="1.2" stroke-linejoin="miter"/>
<text x="197.2" y="928.40" font-size="31.5">PVB</text>
<path d="M128.2 958.2H145.0M167.2 958.2H182.5" fill="none" stroke="#ff00ff" stroke-width="1.6" stroke-dasharray="8.5 4 1.5 4"/>
<polygon points="158.40,949.90 160.63,955.13 166.29,955.64 162.01,959.37 163.28,964.91 158.40,962.00 153.52,964.91 154.79,959.37 150.51,955.64 156.17,955.13" fill="#ff00ff"/>
<text x="197.2" y="967.20" font-size="31.5">PVAc</text>
</svg></body></html>
